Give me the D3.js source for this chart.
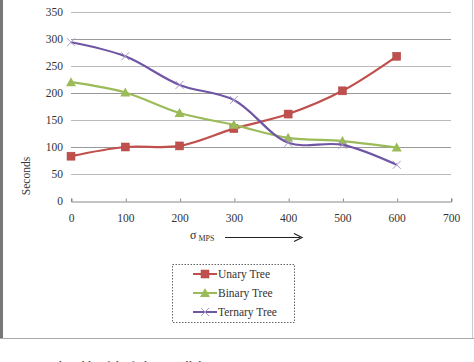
<!DOCTYPE html>
<html>
<head>
<meta charset="utf-8">
<script src="https://cdn.jsdelivr.net/npm/d3@7"></script>
<style>
  body { margin: 0; background: #fff; }
  svg { display: block; }
  text { font-family: "Liberation Serif", "Times New Roman", serif; fill: #333; }
</style>
</head>
<body>
<div id="chart"></div>
<script>
// data
const sizes = [0, 100, 200, 300, 400, 500, 600];
const unary = [83, 100, 102, 134, 161, 204, 268];
const binary = [220, 201, 163, 141, 117, 111, 99];
const ternary = [294, 268, 215, 187, 108, 104, 67];
const seriesNames = ['Unary Tree', 'Binary Tree', 'Ternary Tree'];
const xTicks = [0, 100, 200, 300, 400, 500, 600, 700];
const yTicks = [0, 50, 100, 150, 200, 250, 300, 350];

const W = 474, H = 362;
const serif = '"Liberation Serif", "Times New Roman", serif';
const svg = d3.select('#chart').append('svg')
  .attr('width', W)
  .attr('height', H);

// page frame
svg.append('line').attr('x1', 1.5).attr('x2', 1.5).attr('y1', 0).attr('y2', 338)
  .attr('stroke', '#777').attr('stroke-width', 3);
svg.append('line').attr('x1', 472.5).attr('x2', 472.5).attr('y1', 0).attr('y2', 338)
  .attr('stroke', '#ccc').attr('stroke-width', 1);
svg.append('line').attr('x1', 0).attr('x2', W).attr('y1', 338.5).attr('y2', 338.5)
  .attr('stroke', '#aaa').attr('stroke-width', 1);

const x = d3.scaleLinear().domain([0, 700]).range([71, 451]);
const y = d3.scaleLinear().domain([0, 350]).range([201, 12]);

// gridlines
svg.append('g')
  .selectAll('line')
  .data(yTicks.filter(d => d > 0))
  .enter()
  .append('line')
  .attr('x1', x(0)).attr('x2', x(700))
  .attr('y1', d => Math.round(y(d)) + 0.5).attr('y2', d => Math.round(y(d)) + 0.5)
  .attr('stroke', (d, i) => i % 2 ? '#999' : '#bbb');

// x axis
const xAxis = svg.append('g')
  .attr('transform', `translate(0,${Math.round(y(0)) + 0.5})`)
  .call(d3.axisBottom(x).tickValues(xTicks).tickSize(-3).tickPadding(12))
  .attr('font-family', serif).attr('font-size', 11.5);
xAxis.select('.domain').attr('stroke', '#888');
xAxis.selectAll('.tick line').attr('stroke', '#888').attr('transform', 'translate(0.5,0)');
xAxis.selectAll('.tick text').attr('fill', '#333');

// y axis labels only
const yAxis = svg.append('g')
  .attr('transform', `translate(${x(0)},0)`)
  .call(d3.axisLeft(y).tickValues(yTicks).tickSize(0).tickPadding(8))
  .attr('font-family', serif).attr('font-size', 11.5);
yAxis.select('.domain').remove();
yAxis.selectAll('.tick text').attr('fill', '#333');

// axis titles
svg.append('text')
  .attr('transform', 'translate(30,176) rotate(-90)')
  .attr('text-anchor', 'middle')
  .style('font-size', '11.5px')
  .text('Seconds');

const xt = svg.append('text').attr('x', 190).attr('y', 239).style('font-size', '12px');
xt.append('tspan').text('σ');
xt.append('tspan').attr('dy', 2).style('font-size', '8px').text(' MPS');
svg.append('line').attr('x1', 225).attr('x2', 300).attr('y1', 237.5).attr('y2', 237.5)
  .attr('stroke', '#222').attr('stroke-width', 1.2);
svg.append('path').attr('d', 'M294,233.5 L302,237.5 L294,241.5')
  .attr('fill', 'none').attr('stroke', '#222').attr('stroke-width', 1.2);

const line = d3.line()
  .x((d, i) => x(sizes[i]))
  .y(d => y(d))
  .curve(d3.curveCatmullRom.alpha(0.5));

const colors = ['#c0504d', '#9bbb59', '#6f55a3'];
const allSeries = [unary, binary, ternary];

function drawMarker(g, type, cx, cy, color) {
  if (type === 0) {
    g.append('rect').attr('x', cx - 4).attr('y', cy - 4).attr('width', 8).attr('height', 8)
      .attr('fill', color).attr('stroke', '#b04440').attr('stroke-width', 0.5);
  } else if (type === 1) {
    g.append('path').attr('d', `M${cx},${cy - 5} L${cx + 5},${cy + 4} L${cx - 5},${cy + 4} Z`)
      .attr('fill', color);
  } else {
    g.append('path').attr('d', `M${cx - 4},${cy - 4} L${cx + 4},${cy + 4} M${cx - 4},${cy + 4} L${cx + 4},${cy - 4}`)
      .attr('stroke', '#a898c8').attr('stroke-width', 1);
  }
}

allSeries.forEach((vals, s) => {
  const g = svg.append('g');
  g.append('path')
    .datum(vals)
    .attr('d', line)
    .attr('fill', 'none')
    .attr('stroke', colors[s])
    .attr('stroke-width', 2.2);
  vals.forEach((v, i) => drawMarker(g, s, x(sizes[i]), y(v), colors[s]));
});

// legend
const lg = svg.append('g');
lg.append('rect').attr('x', 172.5).attr('y', 264.5).attr('width', 122).attr('height', 58)
  .attr('fill', 'none').attr('stroke', '#666').attr('stroke-dasharray', '1.5,1.5');
seriesNames.forEach((name, i) => {
  const ly = 274 + i * 19;
  lg.append('line').attr('x1', 193).attr('x2', 217).attr('y1', ly).attr('y2', ly)
    .attr('stroke', colors[i]).attr('stroke-width', 2);
  drawMarker(lg, i, 205, ly, colors[i]);
  lg.append('text').attr('x', 218).attr('y', ly + 4).style('font-size', '11.5px').text(name);
});

// cut-off caption at the bottom of the crop
svg.append('text').attr('x', 8).attr('y', 370).style('font-size', '12px')
  .text('is seen in the table of the fashion at all the');
</script>
</body>
</html>
